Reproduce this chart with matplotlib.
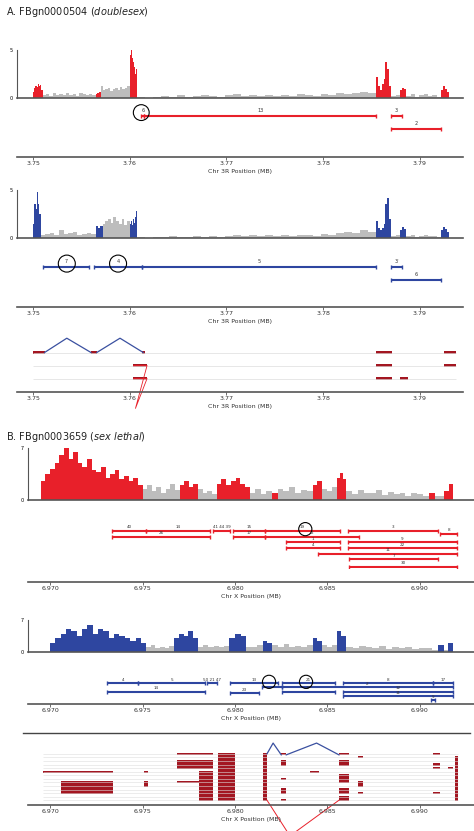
import matplotlib
matplotlib.use("Agg")
import matplotlib.pyplot as plt

W, H = 474, 831
RED = "#e8202a"; BLUE = "#2e46a0"; GREY = "#bdbdbd"; DRED = "#a31621"
COL = {"r": RED, "b": BLUE, "g": GREY}

# ---------------- DATA ----------------
A_title = r"A. FBgn0000504 ($\it{doublesex}$)"
B_title = r"B. FBgn0003659 ($\it{sex\ lethal}$)"
A_ticks = [3.75, 3.76, 3.77, 3.78, 3.79]
B_ticks = [6.970, 6.975, 6.980, 6.985, 6.990]
A_xlabel = "Chr 3R Position (MB)"
B_xlabel = "Chr X Position (MB)"

# coverage regions: (start, end, colour, heights)
A_cov_red = [
    (3.7500, 3.7510, "r", [0.6, 1.0, 1.3, 1.1, 1.5, 1.2, 1.4, 0.8]),
    (3.7510, 3.7565, "g", [0.3, 0.4, 0.2, 0.5, 0.3, 0.4, 0.3, 0.5, 0.3, 0.4, 0.2, 0.5, 0.4, 0.3, 0.4, 0.3]),
    (3.7565, 3.7570, "r", [0.4, 0.5, 0.6]),
    (3.7570, 3.7600, "g", [1.2, 0.8, 0.9, 1.0, 0.7, 0.9, 1.0, 0.8, 1.1, 0.9, 1.0, 1.3]),
    (3.7600, 3.7608, "r", [3.5, 4.5, 5.3, 4.2, 3.8, 4.5, 3.2, 2.5, 3.0, 2.0]),
    (3.7608, 3.7855, "g", [0.1, 0.05, 0.1, 0.2, 0.1, 0.3, 0.1, 0.2, 0.3, 0.2, 0.1, 0.3, 0.4, 0.2, 0.3, 0.2,
                           0.3, 0.2, 0.3, 0.2, 0.4, 0.3, 0.2, 0.4, 0.3, 0.5, 0.4, 0.5, 0.6, 0.5]),
    (3.7855, 3.7870, "r", [2.2, 1.2, 0.8, 1.5, 2.0, 3.8, 3.0, 1.2]),
    (3.7870, 3.7880, "g", [0.2, 0.3]),
    (3.7880, 3.7886, "r", [0.8, 1.0, 0.9]),
    (3.7886, 3.7922, "g", [0.2, 0.4, 0.1, 0.3, 0.4, 0.2, 0.3, 0.1]),
    (3.7922, 3.7930, "r", [0.8, 1.2, 0.9, 0.6]),
]
A_cov_blue = [
    (3.7500, 3.7508, "b", [1.5, 3.5, 3.0, 4.8, 3.5, 2.5]),
    (3.7508, 3.7565, "g", [0.3, 0.4, 0.5, 0.3, 0.8, 0.4, 0.5, 0.6, 0.3, 0.4, 0.5, 0.4]),
    (3.7565, 3.7572, "b", [1.2, 1.0, 1.3]),
    (3.7572, 3.7600, "g", [1.5, 1.8, 2.0, 1.6, 2.2, 1.8, 1.5, 2.0, 1.4, 1.8]),
    (3.7600, 3.7608, "b", [1.5, 1.8, 1.4, 2.0, 1.6, 2.2, 2.8]),
    (3.7608, 3.7855, "g", [0.1, 0.05, 0.1, 0.1, 0.2, 0.1, 0.1, 0.2, 0.1, 0.2, 0.1, 0.2, 0.3, 0.2, 0.3, 0.2,
                           0.3, 0.2, 0.3, 0.2, 0.3, 0.3, 0.2, 0.4, 0.3, 0.5, 0.6, 0.5, 0.8, 0.6]),
    (3.7855, 3.7870, "b", [1.8, 1.0, 0.8, 1.0, 1.5, 3.5, 4.2, 2.0]),
    (3.7870, 3.7880, "g", [0.2, 0.3]),
    (3.7880, 3.7886, "b", [0.8, 1.1, 0.9]),
    (3.7886, 3.7922, "g", [0.2, 0.3, 0.1, 0.2, 0.3, 0.2, 0.2, 0.1]),
    (3.7922, 3.7930, "b", [0.8, 1.1, 0.9, 0.6]),
]
B_cov_red = [
    (6.9695, 6.9750, "r", [2.5, 3.5, 4.2, 5.0, 6.0, 7.2, 5.5, 6.5, 5.0, 4.5, 5.5, 4.0, 3.8, 4.5, 3.0, 3.5, 4.0,
                           2.8, 3.2, 2.5, 3.0, 2.0]),
    (6.9750, 6.9770, "g", [1.5, 2.0, 1.2, 1.8, 1.0, 1.5, 2.2, 1.3]),
    (6.9770, 6.9780, "r", [2.0, 2.5, 1.8, 2.2]),
    (6.9780, 6.9790, "g", [1.5, 1.0, 1.2, 0.8]),
    (6.9790, 6.9808, "r", [2.2, 2.8, 2.0, 2.5, 3.0, 2.2, 1.8]),
    (6.9808, 6.9820, "g", [1.0, 1.5, 0.8, 1.2]),
    (6.9820, 6.9823, "r", [1.0]),
    (6.9823, 6.9842, "g", [1.5, 1.2, 1.8, 1.0, 1.4, 1.2]),
    (6.9842, 6.9847, "r", [2.0, 2.5]),
    (6.9847, 6.9855, "g", [1.5, 1.2, 1.8]),
    (6.9855, 6.9860, "r", [3.0, 3.6, 2.8]),
    (6.9860, 6.9905, "g", [1.2, 0.8, 1.4, 1.0, 0.9, 1.3, 0.7, 1.1, 0.8, 1.0, 0.6, 0.9, 0.8, 0.5]),
    (6.9905, 6.9908, "r", [0.9]),
    (6.9908, 6.9913, "g", [0.5]),
    (6.9913, 6.9918, "r", [1.2, 2.2]),
]
B_cov_blue = [
    (6.9700, 6.9752, "b", [2, 3, 4, 5, 4.5, 3.5, 5, 6, 4, 5, 4.5, 3, 4, 3.5, 3, 2.5, 3, 2]),
    (6.9752, 6.9767, "g", [1.0, 1.5, 0.8, 1.2, 0.9, 1.3]),
    (6.9767, 6.9780, "b", [3, 4, 3.5, 4.5, 3]),
    (6.9780, 6.9797, "g", [1.2, 1.5, 1.0, 1.4, 1.1, 1.3]),
    (6.9797, 6.9806, "b", [3, 4, 3.5]),
    (6.9806, 6.9815, "g", [1.2, 1.0, 1.5]),
    (6.9815, 6.9820, "b", [2.5, 2.0]),
    (6.9820, 6.9842, "g", [1.5, 1.2, 1.8, 1.0, 1.4, 1.2, 1.6]),
    (6.9842, 6.9847, "b", [3.0, 2.5]),
    (6.9847, 6.9855, "g", [1.5, 1.2, 1.6]),
    (6.9855, 6.9860, "b", [4.5, 3.5]),
    (6.9860, 6.9910, "g", [1.2, 0.8, 1.4, 1.0, 0.9, 1.3, 0.7, 1.1, 0.8, 1.0, 0.6, 0.9, 0.8, 0.5]),
    (6.9910, 6.9913, "b", [1.5]),
    (6.9913, 6.9915, "g", [0.5]),
    (6.9915, 6.9918, "b", [2.0]),
]

# isoform bars: (start, end, row, label)
A_bars_red = [(3.7612, 3.7615, 0, "6"), (3.7615, 3.7855, 0, "13"), (3.7870, 3.7882, 0, "3"),
              (3.7870, 3.7922, 1, "2")]
A_circ_red = [(3.7612, 0)]
A_bars_blue = [(3.7510, 3.7558, 0, "7"), (3.7563, 3.7613, 0, "4"), (3.7613, 3.7855, 0, "5"),
               (3.7870, 3.7882, 0, "3'"), (3.7870, 3.7922, 1, "6")]
A_circ_blue = [(3.7535, 0), (3.7588, 0)]

B_bars_red = [(6.97337, 6.97520, 0, "40"), (6.97520, 6.97865, 0, "14"), (6.97883, 6.97973, 0, "41 44 39"),
              (6.97991, 6.98162, 0, "15"), (6.98162, 6.98568, 0, "19"), (6.98609, 6.99099, 0, "3"),
              (6.99110, 6.99202, 0.5, "8"),
              (6.97337, 6.97865, 1, "26"), (6.97991, 6.98162, 1, "17"), (6.98162, 6.98670, 1, "2"),
              (6.98274, 6.98568, 2, "1"), (6.98609, 6.99202, 2, "9"),
              (6.98274, 6.98568, 3, "4"), (6.98609, 6.99202, 3, "22"),
              (6.98450, 6.99202, 4, "11"), (6.98616, 6.99099, 5, "7"), (6.98616, 6.99202, 6.3, "30")]
B_circ_red = [(6.98380, 0)]
B_bars_blue = [(6.97310, 6.97478, 0, "4"), (6.97478, 6.97838, 0, "5"), (6.97850, 6.97905, 0, "50 21 47"),
               (6.97973, 6.98234, 0, "13"), (6.98252, 6.98541, 0, "21"), (6.98586, 6.99072, 0, "8"),
               (6.99072, 6.99176, 0, "17"),
               (6.98145, 6.98252, 1, ""), (6.98252, 6.99176, 1, "2"),
               (6.97310, 6.97838, 2, "14"), (6.97973, 6.98130, 2.3, "23"), (6.98252, 6.98541, 2, "17"),
               (6.98586, 6.99176, 2, "12"), (6.98586, 6.99176, 3, "11"), (6.99060, 6.99080, 4, "9")]
B_circ_blue = [(6.98184, 0), (6.98384, 0)]

# gene model exons: (start, end, first_row, last_row)
A_exons = [(3.7500, 3.7512, 0, 0), (3.7560, 3.7566, 0, 0), (3.7613, 3.7616, 0, 0),
           (3.7855, 3.7871, 0, 0), (3.7925, 3.7937, 0, 0),
           (3.7603, 3.7618, 1, 1), (3.7855, 3.7871, 1, 1), (3.7925, 3.7937, 1, 1),
           (3.7603, 3.7618, 2, 2), (3.7855, 3.7871, 2, 2), (3.7880, 3.7888, 2, 2)]
A_intron_x = [3.7512, 3.7535, 3.7560, 3.7566, 3.7590, 3.7614]
A_intron_y = [0, -1.1, 0, 0, -1.1, 0]
B_exons = [(6.96962, 6.97341, 5, 5), (6.97060, 6.97341, 8, 11), (6.97510, 6.97530, 5, 5),
           (6.97510, 6.97530, 8, 9), (6.97686, 6.97881, 0, 0), (6.97686, 6.97881, 2, 4),
           (6.97808, 6.97881, 5, 13), (6.97686, 6.97881, 8, 8), (6.97908, 6.98000, 0, 13),
           (6.98151, 6.98173, 0, 13), (6.98250, 6.98277, 0, 0), (6.98250, 6.98277, 2, 3),
           (6.98250, 6.98277, 7, 7), (6.98250, 6.98277, 10, 11), (6.98250, 6.98277, 13, 13),
           (6.98404, 6.98455, 5, 5), (6.98562, 6.98616, 0, 0), (6.98562, 6.98616, 2, 3),
           (6.98562, 6.98616, 6, 8), (6.98562, 6.98616, 10, 11), (6.98562, 6.98616, 12, 13),
           (6.98663, 6.98690, 1, 1), (6.98663, 6.98690, 8, 9), (6.98663, 6.98690, 11, 11),
           (6.99072, 6.99108, 0, 0), (6.99072, 6.99108, 3, 3), (6.99072, 6.99108, 4, 4),
           (6.99072, 6.99108, 11, 11), (6.99153, 6.99180, 4, 4), (6.99189, 6.99207, 1, 13)]
B_intron_x = [6.98173, 6.98206, 6.98250, 6.98277, 6.98441, 6.98562]
B_intron_y = [0, -3, 0.3, 0.3, -3, 0.3]

# ---------------- DRAW ----------------
fig = plt.figure(figsize=(W / 100, H / 100), dpi=100)
plt.rcParams["font.family"] = "DejaVu Sans"

def ax_px(x0, y0, x1, y1):
    a = fig.add_axes([x0 / W, 1 - y1 / H, (x1 - x0) / W, (y1 - y0) / H])
    a.patch.set_alpha(0)
    return a

A_XL = (3.74835, 3.79447); A_PX = (17, 463)
B_XL = (6.96881, 6.99292); B_PX = (28, 474)

def coverage(y0, y1, regions, xl, px, ymax, ylab):
    a = ax_px(px[0], y0, px[1], y1)
    for s, e, c, hs in regions:
        w = (e - s) / len(hs)
        a.bar([s + w * (i + 0.5) for i in range(len(hs))], hs, width=w, color=COL[c], linewidth=0)
    a.set_xlim(*xl); a.set_ylim(0, ymax)
    for sp in ["top", "right"]:
        a.spines[sp].set_visible(False)
    a.spines["bottom"].set_color("#555"); a.spines["left"].set_color("#555")
    a.spines["bottom"].set_linewidth(1.2); a.spines["left"].set_linewidth(0.8)
    a.set_xticks([]); a.set_yticks([0, ymax]); a.set_yticklabels(["0", ylab], fontsize=3.5)
    a.tick_params(axis="y", length=0, pad=3)
    return a

def bars(y0, y1, items, circles, xl, px, nrows, col, csize, fs=3.5):
    a = ax_px(px[0], y0, px[1], y1)
    a.set_xlim(*xl); a.set_ylim(nrows - 0.5, -0.5); a.axis("off")
    for s, e, r, lab in items:
        a.hlines(r, s, e, color=col, lw=1.5)
        a.plot([s, e], [r, r], "|", color=col, ms=3, mew=1)
        if lab:
            a.text((s + e) / 2, r - 0.25, lab, fontsize=fs, ha="center", va="bottom", color="#333")
    a.scatter([c[0] for c in circles], [c[1] - 0.3 for c in circles], s=csize, facecolors="none",
              edgecolors="black", linewidths=0.8, clip_on=False, zorder=5)
    return a

def xaxis(ypx, ticks, xl, px, label):
    a = ax_px(px[0], ypx, px[1], ypx + 1)
    a.set_xlim(*xl); a.set_ylim(0, 1)
    for sp in ["top", "right", "left"]:
        a.spines[sp].set_visible(False)
    a.spines["bottom"].set_color("#555"); a.spines["bottom"].set_linewidth(1.2)
    a.set_yticks([]); a.set_xticks(ticks)
    a.set_xticklabels([f"{t:.2f}" if t < 5 else f"{t:.3f}" for t in ticks], fontsize=4.5)
    a.tick_params(axis="x", length=2, width=0.5, pad=1, colors="#333")
    a.set_xlabel(label, fontsize=4.5, labelpad=2, color="#333")
    return a

fig.text(6 / W, 1 - 12 / H, A_title, fontsize=7, va="center", color="#222")
fig.text(6 / W, 1 - 437 / H, B_title, fontsize=7, va="center", color="#222")

# Panel A
coverage(50, 98, A_cov_red, A_XL, A_PX, 5, "5")
bars(110, 136, A_bars_red, A_circ_red, A_XL, A_PX, 2, RED, 130)
xaxis(156, A_ticks, A_XL, A_PX, A_xlabel)

coverage(190, 238, A_cov_blue, A_XL, A_PX, 5, "5")
bars(261, 287, A_bars_blue, A_circ_blue, A_XL, A_PX, 2, BLUE, 150)
xaxis(306, A_ticks, A_XL, A_PX, A_xlabel)

g = ax_px(A_PX[0], 346, A_PX[1], 385)
g.set_xlim(*A_XL); g.set_ylim(2.5, -0.5); g.axis("off")
for r in range(3):
    g.hlines(r, 3.7500, 3.7937, color="#dddddd", lw=0.5)
for s, e, r0, r1 in A_exons:
    g.fill_between([s, e], r0 - 0.15, r1 + 0.15, color=DRED, lw=0)
g.plot(A_intron_x[:3], A_intron_y[:3], color="#3a50a0", lw=0.9, clip_on=False)
g.plot(A_intron_x[3:], A_intron_y[3:], color="#3a50a0", lw=0.9, clip_on=False)
g.plot([3.7604, 3.7618, 3.7606, 3.7618, 3.7604], [1, 1, 4.3, 2, 2.0], color=RED, lw=0.6, clip_on=False)
xaxis(391, A_ticks, A_XL, A_PX, A_xlabel)

# Panel B
coverage(448, 500, B_cov_red, B_XL, B_PX, 7, "7")
bars(528, 568, B_bars_red, B_circ_red, B_XL, B_PX, 7, RED, 90, fs=3)
xaxis(581, B_ticks, B_XL, B_PX, B_xlabel)

coverage(620, 652, B_cov_blue, B_XL, B_PX, 7, "7")
bars(681, 702, B_bars_blue, B_circ_blue, B_XL, B_PX, 5, BLUE, 90, fs=3)
xaxis(703, B_ticks, B_XL, B_PX, B_xlabel)

fig.add_artist(plt.Line2D([23 / W, 470 / W], [1 - 733 / H] * 2, color="#444", lw=1))
g = ax_px(B_PX[0], 752, B_PX[1], 802)
g.set_xlim(*B_XL); g.set_ylim(13.5, -0.5); g.axis("off")
for r in range(14):
    g.hlines(r, 6.96962, 6.99207, color="#dddddd", lw=0.4)
for s, e, r0, r1 in B_exons:
    g.fill_between([s, e], r0 - 0.3, r1 + 0.3, color=DRED, lw=0)
g.plot(B_intron_x[:3], B_intron_y[:3], color="#3a50a0", lw=0.9, clip_on=False)
g.plot(B_intron_x[3:], B_intron_y[3:], color="#3a50a0", lw=0.9, clip_on=False)
g.plot([6.98173, 6.98297, 6.98562], [13, 23, 13], color=RED, lw=0.7, clip_on=False)
xaxis(804, B_ticks, B_XL, B_PX, B_xlabel)

fig.savefig("out.png", dpi=100)
